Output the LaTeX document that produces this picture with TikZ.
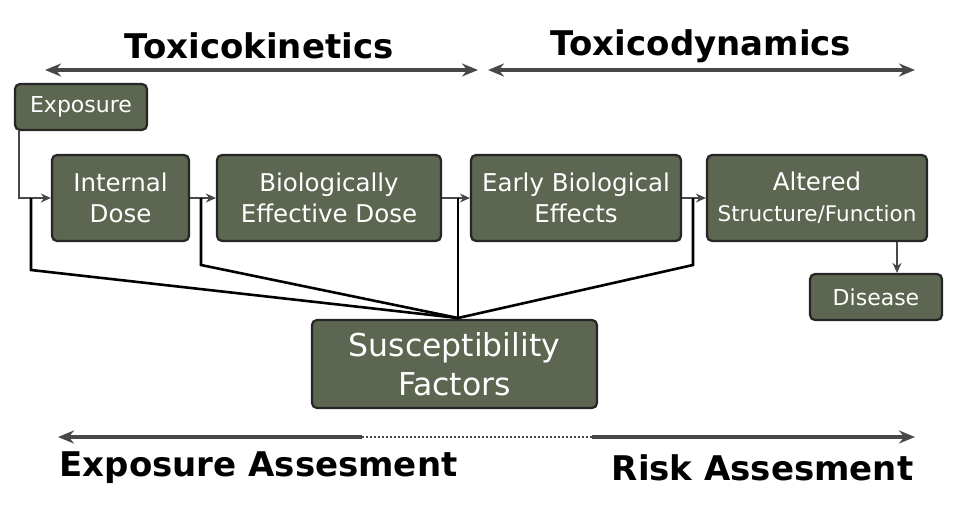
\documentclass[tikz,border=0pt]{standalone}
\usepackage{fontspec}
\setmainfont{DejaVu Sans}
\usetikzlibrary{arrows.meta}
\definecolor{boxc}{HTML}{5C6650}
\definecolor{arr}{HTML}{484848}
\tikzset{
 bx/.style={draw=black!85,line width=2.2pt,fill=boxc,rounded corners=5pt,text=white,align=center,inner sep=0pt,font=\fontsize{24.5}{31}\selectfont},
 flow/.style={draw=arr,line width=2.5pt,-{Stealth[length=10pt,width=9pt]}},
 link/.style={draw=black,line width=2.6pt},
 big/.style={draw=arr,line width=3.5pt,{Stealth[length=16pt,width=13pt]}-{Stealth[length=16pt,width=13pt]}},
 ttl/.style={font=\fontsize{34}{38}\bfseries\selectfont}
}
\begin{document}
\begin{tikzpicture}[x=1pt,y=-1pt]
\useasboundingbox (0,0) rectangle (960,520);
\node[bx,minimum width=132pt,minimum height=46pt,font=\fontsize{22}{26}\selectfont] (exp) at (81,107) {Exposure};
\node[bx,minimum width=137pt,minimum height=86pt] (id) at (120.5,198) {Internal\\Dose};
\node[bx,minimum width=224pt,minimum height=86pt] (bed) at (329,198) {Biologically\\Effective Dose};
\node[bx,minimum width=210pt,minimum height=86pt] (ebe) at (576,198) {Early Biological\\Effects};
\node[bx,minimum width=220pt,minimum height=86pt] (asf) at (817,198) {Altered\\{\fontsize{21.5}{26}\selectfont Structure/Function}};
\node[bx,minimum width=132pt,minimum height=46pt,font=\fontsize{22}{26}\selectfont] (dis) at (876,297) {Disease};
\node[bx,minimum width=285pt,minimum height=88pt,font=\fontsize{31.5}{39}\selectfont] (sf) at (454.5,364) {Susceptibility\\Factors};
\coordinate (hub) at (458,318);
% flow
\draw[flow] (exp.south west) ++(5,0) |- (id.west);
\draw[flow] (id) -- (bed);
\draw[flow] (bed) -- (ebe);
\draw[flow] (ebe) -- (asf);
\draw[flow] (asf.south -| dis) ++(21,0) coordinate (a1) -- (a1 |- dis.north);
% links
\draw[link] (hub) -- (31,270) -- (31,198);
\draw[link] (hub) -- (201,265) -- (201,198);
\draw[link] (hub) -- (458,198);
\draw[link] (hub) -- (693,265) -- (693,198);
% top arrows
\node[ttl] (tk) at (259,46) {Toxicokinetics};
\node[ttl] (td) at (701,46) {Toxicodynamics};
\coordinate (tkl) at (45,70); \coordinate (tkr) at (478,70);
\coordinate (tdl) at (488,70); \coordinate (tdr) at (915,70);
\draw[big] (tkl) -- (tkr);
\draw[big] (tdl) -- (tdr);
% bottom
\coordinate (bl) at (58,437); \coordinate (bm1) at (362,437); \coordinate (bm2) at (592,437); \coordinate (br) at (915,437);
\draw[draw=arr,line width=3.5pt,{Stealth[length=16pt,width=13pt]}-] (bl) -- (bm1);
\draw[draw=arr,line width=2pt,dotted] (bm1) -- (bm2);
\draw[draw=arr,line width=3.5pt,-{Stealth[length=16pt,width=13pt]}] (bm2) -- (br);
\node[ttl,anchor=west] (ea) at (56,468) {Exposure Assesment};
\node[ttl,anchor=east] (ra) at (917,468) {Risk Assesment};
\end{tikzpicture}
\end{document}
